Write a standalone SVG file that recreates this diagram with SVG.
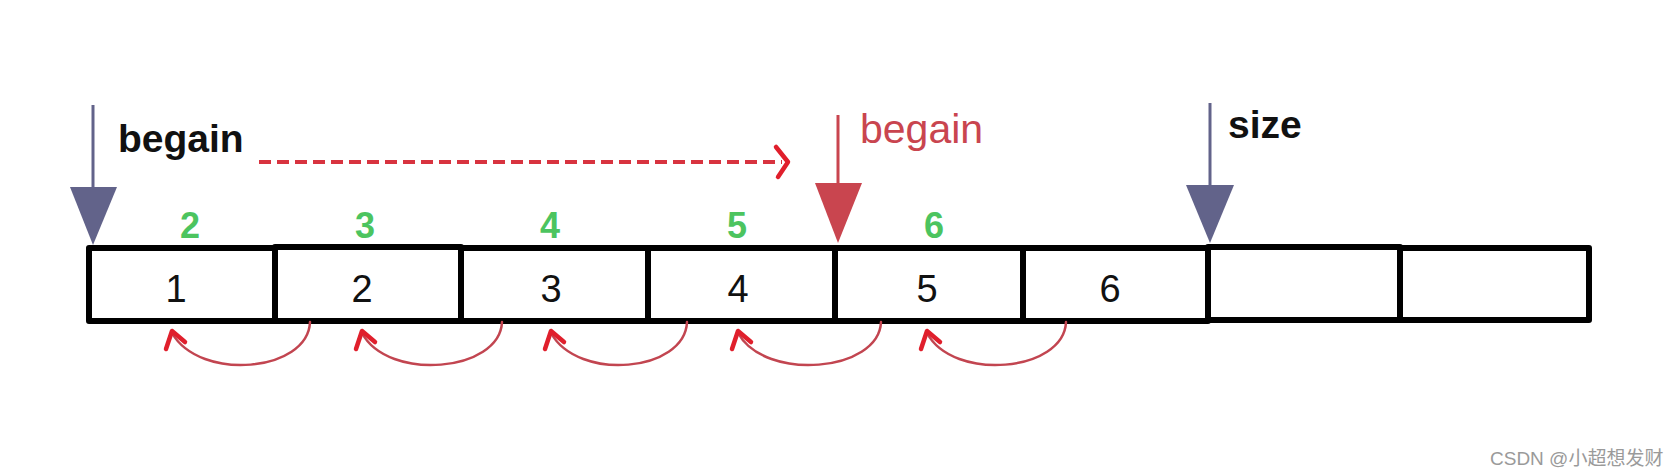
<svg xmlns="http://www.w3.org/2000/svg" width="1675" height="475" viewBox="0 0 1675 475">
<style>
.cell{fill:#fff;stroke:#000;stroke-width:6;stroke-linejoin:round}
.num{font-family:"Liberation Sans",Arial,sans-serif;font-size:38px;fill:#111;text-anchor:middle}
.idx{font-family:"Liberation Sans",Arial,sans-serif;font-size:36px;fill:#4cc45f;text-anchor:middle;font-weight:bold}
.lbl{font-family:"Liberation Sans",Arial,sans-serif;font-size:39px;font-weight:bold;fill:#111}
.curve{fill:none;stroke:#c24550;stroke-width:2.5;stroke-linecap:round}
.head{fill:none;stroke:#e01f2c;stroke-width:4.5;stroke-linecap:round;stroke-linejoin:round}
</style>
<rect width="1675" height="475" fill="#fff"/>
<g id="cells">
<g id="cell1"><rect class="cell" x="89" y="248" width="186" height="73"/><text class="num" x="176" y="302">1</text></g>
<g id="cell2"><rect class="cell" x="275" y="247" width="186" height="74"/><text class="num" x="362" y="302">2</text></g>
<g id="cell3"><rect class="cell" x="461" y="248" width="187" height="73"/><text class="num" x="551" y="302">3</text></g>
<g id="cell4"><rect class="cell" x="648" y="248" width="187" height="73"/><text class="num" x="738" y="302">4</text></g>
<g id="cell5"><rect class="cell" x="835" y="248" width="188" height="73"/><text class="num" x="927" y="302">5</text></g>
<g id="cell6"><rect class="cell" x="1023" y="248" width="185" height="73"/><text class="num" x="1110" y="302">6</text></g>
<g id="cell7"><rect class="cell" x="1208" y="247" width="192" height="73"/></g>
<g id="cell8"><rect class="cell" x="1400" y="248" width="189" height="72"/></g>
</g>
<g id="indices">
<text class="idx" x="190" y="238">2</text>
<text class="idx" x="365" y="238">3</text>
<text class="idx" x="550" y="238">4</text>
<text class="idx" x="737" y="238">5</text>
<text class="idx" x="934" y="238">6</text>
</g>
<g id="ptr-begin-old">
<line x1="93" y1="105" x2="93" y2="190" stroke="#62638a" stroke-width="3"/>
<polygon points="70,187 117,187 93,245" fill="#62638a"/>
<text class="lbl" x="118" y="152">begain</text>
</g>
<g id="ptr-begin-new">
<line x1="838" y1="115" x2="838" y2="186" stroke="#c9454f" stroke-width="3"/>
<polygon points="815,183 862,183 838,243" fill="#c9454f"/>
<text class="lbl" x="860" y="143" style="fill:#c9454f;font-weight:normal;font-size:41px">begain</text>
</g>
<g id="ptr-size">
<line x1="1210" y1="103" x2="1210" y2="188" stroke="#62638a" stroke-width="3"/>
<polygon points="1186,185 1234,185 1210,243" fill="#62638a"/>
<text class="lbl" x="1228" y="138">size</text>
</g>
<g id="connectors">
<line x1="259" y1="162" x2="782" y2="162" stroke="#d8333f" stroke-width="4" stroke-dasharray="12 6"/>
<polyline class="head" points="776,147 788,162 778,177"/>
<path class="curve" d="M310,322 C308,372 200,382 172,333"/>
<polyline class="head" points="166,349 172,331 185,342"/>
<path class="curve" d="M502,322 C500,372 388,382 362,333"/>
<polyline class="head" points="356,349 362,331 375,342"/>
<path class="curve" d="M687,322 C685,372 578,382 551,333"/>
<polyline class="head" points="545,349 551,331 564,342"/>
<path class="curve" d="M881,322 C879,372 765,382 738,333"/>
<polyline class="head" points="732,349 738,331 751,342"/>
<path class="curve" d="M1066,322 C1064,372 953,382 927,333"/>
<polyline class="head" points="921,349 927,331 940,342"/>
</g>
<text x="1490" y="465" font-family="'Liberation Sans','Noto Sans CJK SC',sans-serif" font-size="19" fill="#9a9a9a">CSDN @小超想发财</text>
</svg>
